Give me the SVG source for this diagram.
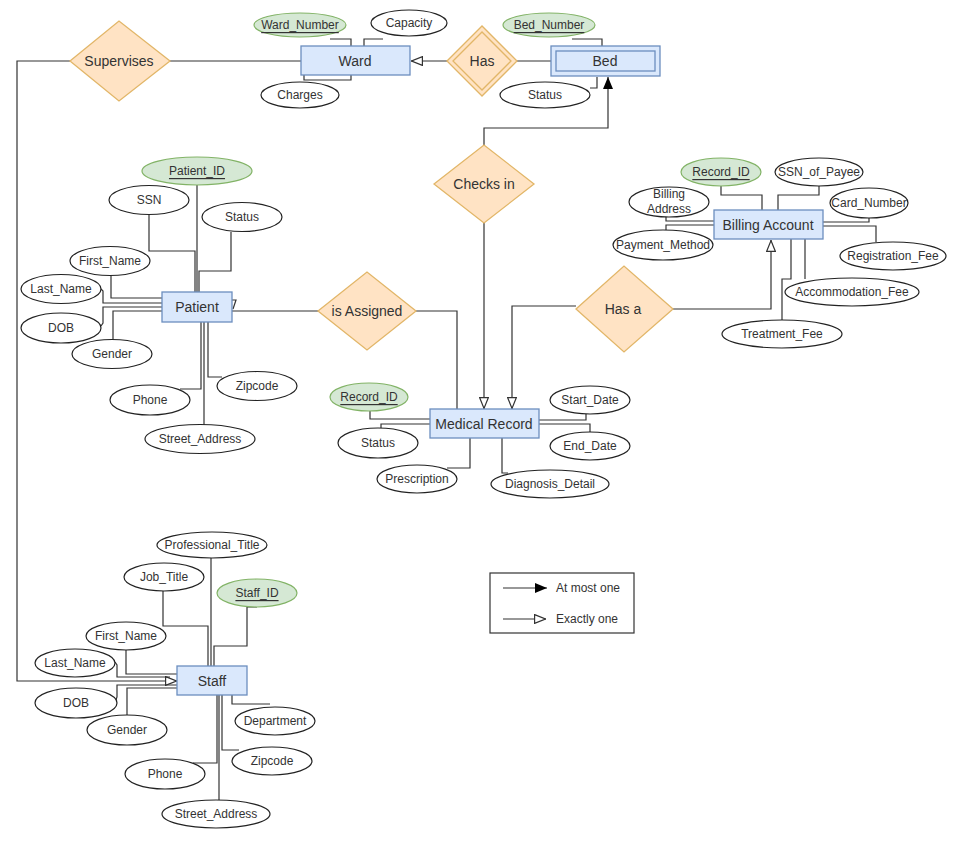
<svg xmlns="http://www.w3.org/2000/svg" width="974" height="868" viewBox="0 0 974 868">
<style>
text{font-family:"Liberation Sans",Arial,sans-serif;fill:#333;text-anchor:middle;dominant-baseline:central}
.ent rect{fill:#dae8fc;stroke:#6c8ebf;stroke-width:1.3}
.ent text{font-size:14px}
.rel polygon{fill:#ffe3c4;stroke:#e2b668;stroke-width:1.3}
.rel text{font-size:14px}
.att ellipse{fill:#fff;stroke:#222;stroke-width:1.2}
.att text{font-size:12px}
.key ellipse{fill:#d5e8d4;stroke:#82b366;stroke-width:1.2}
.key text{font-size:12px;text-decoration:underline}
.ln{fill:none;stroke:#333;stroke-width:1.2}
</style>
<defs>
<marker id="open" viewBox="0 0 12 10" refX="12" refY="5" markerWidth="12" markerHeight="10" markerUnits="userSpaceOnUse" orient="auto">
<path d="M0.6,0.6 L11.4,5 L0.6,9.4 Z" fill="#fff" stroke="#333" stroke-width="1.2"/>
</marker>
<marker id="filled" viewBox="0 0 12 10" refX="12" refY="5" markerWidth="12" markerHeight="10" markerUnits="userSpaceOnUse" orient="auto">
<path d="M0,0 L12,5 L0,10 Z" fill="#000"/>
</marker>
</defs>
<rect width="974" height="868" fill="#fff"/>

<g id="connectors">
<polyline class="ln" points="70,61 17,61 17,681 177,681" marker-end="url(#open)"/>
<polyline class="ln" points="170,61 301,61"/>
<polyline class="ln" points="447,61 411,61" marker-end="url(#open)"/>
<polyline class="ln" points="517,61 551,61"/>
<polyline class="ln" points="484,145 484,128 608,128 608,77" marker-end="url(#filled)"/>
<polyline class="ln" points="484,223 484,409" marker-end="url(#open)"/>
<polyline class="ln" points="232,311 318,311"/>
<path class="ln" d="M232,300 L236,300 L233,309"/>
<polyline class="ln" points="416,311 457,311 457,409"/>
<polyline class="ln" points="576,306 512,306 512,409" marker-end="url(#open)"/>
<polyline class="ln" points="673,309 771,309 771,240" marker-end="url(#open)"/>
<polyline class="ln" points="330,39 351,39 351,46"/>
<polyline class="ln" points="364,46 364,39 383,39"/>
<polyline class="ln" points="304,75 304,80 351,80 351,75"/>
<polyline class="ln" points="572,39 602,39 602,46"/>
<polyline class="ln" points="597,77 597,88 590,88"/>
<polyline class="ln" points="197,185 197,292"/>
<polyline class="ln" points="149,215 149,251 195,251 195,292"/>
<polyline class="ln" points="231,232 231,271 199,271 199,292"/>
<polyline class="ln" points="111,275 111,298 162,298"/>
<polyline class="ln" points="101,289 103,291 103,303 162,303"/>
<polyline class="ln" points="101,326 103,323 103,307 162,307"/>
<polyline class="ln" points="113,340 113,311 162,311"/>
<polyline class="ln" points="180,389 201,389 201,322"/>
<polyline class="ln" points="208,322 208,377 222,377"/>
<polyline class="ln" points="204,322 204,425"/>
<polyline class="ln" points="370,411 370,419 430,419"/>
<polyline class="ln" points="381,428 381,424 430,424"/>
<polyline class="ln" points="470,438 470,468 447,468"/>
<polyline class="ln" points="502,438 502,473 508,473"/>
<polyline class="ln" points="539,420 586,420 586,414"/>
<polyline class="ln" points="539,424 590,424 590,432"/>
<polyline class="ln" points="721,186 721,195 762,195 762,210"/>
<polyline class="ln" points="819,186 819,195 778,195 778,210"/>
<polyline class="ln" points="666,216 666,221 714,221"/>
<polyline class="ln" points="666,230 666,225 714,225"/>
<polyline class="ln" points="869,218 869,222 823,222"/>
<polyline class="ln" points="876,242 876,226 823,226"/>
<polyline class="ln" points="805,239 805,279"/>
<polyline class="ln" points="791,239 791,279 782,279 782,320"/>
<polyline class="ln" points="211,558 211,666"/>
<polyline class="ln" points="163,591 163,626 208,626 208,666"/>
<polyline class="ln" points="257,607 247,607 247,646 214,646 214,666"/>
<polyline class="ln" points="126,650 126,674 177,674"/>
<polyline class="ln" points="115,662 117,665 117,677 170,677"/>
<polyline class="ln" points="116,700 117,697 117,685 177,685"/>
<polyline class="ln" points="127,716 127,688 177,688"/>
<polyline class="ln" points="232,695 232,704 270,704"/>
<polyline class="ln" points="222,695 222,750 239,750"/>
<polyline class="ln" points="193,763 217,763 217,695"/>
<polyline class="ln" points="219,695 219,800"/>
</g>

<g id="ward" class="ent"><rect x="301" y="46" width="109" height="29"/><text x="355" y="61">Ward</text></g>
<g id="bed" class="ent"><rect x="551" y="46" width="109" height="30"/><rect x="556" y="51" width="99" height="20"/><text x="605" y="61">Bed</text></g>
<g id="patient" class="ent"><rect x="162" y="292" width="70" height="30"/><text x="197" y="307">Patient</text></g>
<g id="medical_record" class="ent"><rect x="430" y="409" width="109" height="29"/><text x="484" y="424">Medical Record</text></g>
<g id="billing_account" class="ent"><rect x="714" y="210" width="109" height="29"/><text x="768" y="225">Billing Account</text></g>
<g id="staff" class="ent"><rect x="177" y="666" width="70" height="29"/><text x="212" y="681">Staff</text></g>

<g id="supervises" class="rel"><polygon points="70,61 119,21 170,61 119,101"/><text x="119" y="61">Supervises</text></g>
<g id="has" class="rel"><polygon points="447,61 482,26 517,61 482,96"/><polygon points="453,61 482,32 511,61 482,90"/><text x="482" y="61">Has</text></g>
<g id="checks_in" class="rel"><polygon points="434,184 484,145 534,184 484,223"/><text x="484" y="184">Checks in</text></g>
<g id="is_assigned" class="rel"><polygon points="318,311 367,272 416,311 367,350"/><text x="367" y="311">is Assigned</text></g>
<g id="has_a" class="rel"><polygon points="576,309 624,266 673,309 624,352"/><text x="623" y="309">Has a</text></g>

<g id="ward_number" class="key"><ellipse cx="300" cy="25" rx="46" ry="12"/><text x="300" y="25">Ward_Number</text></g>
<g id="capacity" class="att"><ellipse cx="409" cy="23" rx="38" ry="13"/><text x="409" y="23">Capacity</text></g>
<g id="charges" class="att"><ellipse cx="300" cy="95" rx="39" ry="13"/><text x="300" y="95">Charges</text></g>
<g id="bed_number" class="key"><ellipse cx="549" cy="25" rx="46" ry="12"/><text x="549" y="25">Bed_Number</text></g>
<g id="bed_status" class="att"><ellipse cx="545" cy="95" rx="45" ry="13"/><text x="545" y="95">Status</text></g>

<g id="patient_id" class="key"><ellipse cx="197" cy="171" rx="55" ry="14"/><text x="197" y="171">Patient_ID</text></g>
<g id="p_ssn" class="att"><ellipse cx="149" cy="200" rx="40" ry="14.5"/><text x="149" y="200">SSN</text></g>
<g id="p_status" class="att"><ellipse cx="242" cy="217" rx="40" ry="14.5"/><text x="242" y="217">Status</text></g>
<g id="p_first_name" class="att"><ellipse cx="110" cy="261" rx="40" ry="14.5"/><text x="110" y="261">First_Name</text></g>
<g id="p_last_name" class="att"><ellipse cx="61" cy="289" rx="40" ry="14.5"/><text x="61" y="289">Last_Name</text></g>
<g id="p_dob" class="att"><ellipse cx="61" cy="328" rx="40" ry="15"/><text x="61" y="328">DOB</text></g>
<g id="p_gender" class="att"><ellipse cx="112" cy="354" rx="40" ry="14.5"/><text x="112" y="354">Gender</text></g>
<g id="p_phone" class="att"><ellipse cx="150" cy="400" rx="40" ry="15"/><text x="150" y="400">Phone</text></g>
<g id="p_zipcode" class="att"><ellipse cx="257" cy="386" rx="40" ry="14.5"/><text x="257" y="386">Zipcode</text></g>
<g id="p_street_address" class="att"><ellipse cx="200" cy="439" rx="55" ry="14.5"/><text x="200" y="439">Street_Address</text></g>

<g id="mr_record_id" class="key"><ellipse cx="369" cy="397" rx="39" ry="14"/><text x="369" y="397">Record_ID</text></g>
<g id="mr_status" class="att"><ellipse cx="378" cy="443" rx="40" ry="15"/><text x="378" y="443">Status</text></g>
<g id="mr_prescription" class="att"><ellipse cx="417" cy="479" rx="40" ry="14"/><text x="417" y="479">Prescription</text></g>
<g id="mr_diagnosis" class="att"><ellipse cx="550" cy="484" rx="59" ry="14"/><text x="550" y="484">Diagnosis_Detail</text></g>
<g id="mr_start_date" class="att"><ellipse cx="590" cy="400" rx="40" ry="14"/><text x="590" y="400">Start_Date</text></g>
<g id="mr_end_date" class="att"><ellipse cx="590" cy="446" rx="40" ry="14"/><text x="590" y="446">End_Date</text></g>

<g id="ba_record_id" class="key"><ellipse cx="721" cy="172" rx="40" ry="14"/><text x="721" y="172">Record_ID</text></g>
<g id="ba_ssn_of_payee" class="att"><ellipse cx="819" cy="172" rx="44" ry="14"/><text x="819" y="172">SSN_of_Payee</text></g>
<g id="ba_billing_address" class="att"><ellipse cx="669" cy="202" rx="40" ry="15"/><text x="669" y="194">Billing</text><text x="669" y="209">Address</text></g>
<g id="ba_card_number" class="att"><ellipse cx="869" cy="203" rx="39" ry="15"/><text x="869" y="203">Card_Number</text></g>
<g id="ba_payment_method" class="att"><ellipse cx="663" cy="245" rx="50" ry="15"/><text x="663" y="245">Payment_Method</text></g>
<g id="ba_registration_fee" class="att"><ellipse cx="893" cy="256" rx="53" ry="14"/><text x="893" y="256">Registration_Fee</text></g>
<g id="ba_accommodation_fee" class="att"><ellipse cx="852" cy="292" rx="67" ry="14"/><text x="852" y="292">Accommodation_Fee</text></g>
<g id="ba_treatment_fee" class="att"><ellipse cx="782" cy="334" rx="60" ry="14"/><text x="782" y="334">Treatment_Fee</text></g>

<g id="s_professional_title" class="att"><ellipse cx="212" cy="545" rx="55" ry="13"/><text x="212" y="545">Professional_Title</text></g>
<g id="s_job_title" class="att"><ellipse cx="164" cy="577" rx="40" ry="14"/><text x="164" y="577">Job_Title</text></g>
<g id="staff_id" class="key"><ellipse cx="257" cy="593" rx="40" ry="14"/><text x="257" y="593">Staff_ID</text></g>
<g id="s_first_name" class="att"><ellipse cx="126" cy="636" rx="40" ry="14"/><text x="126" y="636">First_Name</text></g>
<g id="s_last_name" class="att"><ellipse cx="75" cy="663" rx="40" ry="14"/><text x="75" y="663">Last_Name</text></g>
<g id="s_dob" class="att"><ellipse cx="76" cy="703" rx="41" ry="15"/><text x="76" y="703">DOB</text></g>
<g id="s_gender" class="att"><ellipse cx="127" cy="730" rx="40" ry="15"/><text x="127" y="730">Gender</text></g>
<g id="s_department" class="att"><ellipse cx="275" cy="721" rx="40" ry="14"/><text x="275" y="721">Department</text></g>
<g id="s_zipcode" class="att"><ellipse cx="272" cy="761" rx="40" ry="14"/><text x="272" y="761">Zipcode</text></g>
<g id="s_phone" class="att"><ellipse cx="165" cy="774" rx="40" ry="15"/><text x="165" y="774">Phone</text></g>
<g id="s_street_address" class="att"><ellipse cx="216" cy="814" rx="54" ry="14"/><text x="216" y="814">Street_Address</text></g>

<g id="legend">
<rect x="490" y="573" width="144" height="60" fill="#fff" stroke="#333" stroke-width="1.2"/>
<line class="ln" x1="503" y1="588" x2="547" y2="588" marker-end="url(#filled)"/>
<line class="ln" x1="503" y1="619" x2="546" y2="619" marker-end="url(#open)"/>
<text x="556" y="588" style="text-anchor:start;font-size:12px">At most one</text>
<text x="556" y="619" style="text-anchor:start;font-size:12px">Exactly one</text>
</g>
</svg>
